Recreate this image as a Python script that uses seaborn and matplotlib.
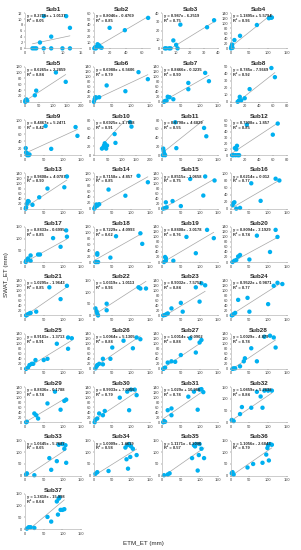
import numpy as np
import pandas as pd
import matplotlib
matplotlib.use("Agg")
import matplotlib.pyplot as plt
import seaborn as sns

# ETM_ET (x) and SWAT_ET (y) per sub-basin
etm_x = [
    [2, 2.5, 3, 4, 5, 5, 7, 7, 10, 11, 12, 12],
    [1, 2, 3, 5, 5, 7, 8, 10, 20, 39, 68],
    [2, 3, 5, 6, 8, 10, 11, 13, 32, 37],
    [1, 2, 3, 4, 5, 10, 25, 70, 102, 108, 110],
    [1, 2, 3, 5, 8, 35, 40, 110, 145],
    [1, 3, 5, 8, 15, 35, 85, 120, 145],
    [5, 8, 12, 15, 20, 30, 70, 70, 115, 125],
    [10, 12, 13, 15, 20, 27, 58, 63],
    [2, 3, 5, 6, 8, 10, 12, 55, 70, 135, 140],
    [30, 35, 38, 40, 42, 45, 48, 75, 78, 130, 135],
    [2, 3, 4, 5, 6, 8, 35, 38, 112, 118],
    [2, 4, 6, 7, 8, 9, 10, 12, 23, 60, 67],
    [2, 3, 5, 8, 10, 20, 38, 60, 105, 112],
    [2, 4, 6, 8, 10, 15, 40, 85, 120, 145],
    [3, 8, 10, 12, 28, 50, 75, 110, 115, 140],
    [5, 7, 10, 15, 25, 55, 80, 120, 130],
    [2, 3, 5, 8, 15, 15, 35, 40, 75, 95, 110, 112],
    [5, 8, 10, 10, 12, 45, 60, 125, 130],
    [5, 8, 10, 10, 30, 65, 90, 120, 138],
    [5, 10, 15, 20, 25, 50, 70, 105, 120, 125],
    [3, 5, 8, 12, 15, 30, 65, 95, 112],
    [5, 8, 10, 12, 35, 35, 120, 125, 140],
    [3, 8, 12, 15, 25, 50, 55, 90, 100, 105, 115],
    [3, 5, 8, 12, 20, 45, 50, 100, 115, 125, 138],
    [3, 8, 12, 18, 22, 28, 50, 60, 85, 115, 115, 125],
    [5, 8, 10, 15, 25, 25, 45, 50, 80, 105, 115, 125],
    [3, 5, 8, 15, 25, 35, 50, 75, 90, 100, 105],
    [5, 8, 12, 25, 35, 38, 55, 70, 90, 105, 115, 120],
    [3, 5, 25, 30, 35, 60, 80, 95, 105, 110],
    [3, 5, 10, 15, 25, 30, 70, 90, 95, 100, 110, 115],
    [3, 5, 8, 15, 25, 25, 70, 85, 95, 100, 105, 110],
    [3, 8, 25, 30, 55, 70, 80, 85, 90, 100, 110],
    [3, 5, 25, 65, 70, 85, 90, 100, 105, 108, 110],
    [5, 10, 40, 85, 88, 90, 92, 95, 98, 100, 105, 115],
    [5, 15, 20, 80, 85, 88, 90, 95, 98, 100, 105, 112],
    [3, 5, 8, 45, 60, 85, 95, 98, 100, 102, 105, 110],
    [5, 10, 15, 25, 60, 70, 85, 88, 90, 92, 95, 100, 105],
]
swat_y = [
    [0, 0, 0, 2, 0, 11, 4, 0, 0, 11, 7, 0],
    [0, 2, 0, 7, 3, 5, 2, 1, 35, 31, 52],
    [0, 0, 0, 0, 9, 4, 0, 27, 24, 32],
    [0, 5, 10, 15, 2, 33, 50, 93, 120, 122, 123],
    [0, 5, 2, 8, 3, 22, 38, 100, 68],
    [0, 10, 18, 16, 18, 65, 42, 118, 90],
    [0, 3, 5, 20, 18, 10, 75, 50, 115, 82],
    [0, 2, 7, 2, 5, 18, 48, 35],
    [20, 8, 5, 0, 2, 0, 2, 83, 18, 80, 55],
    [15, 18, 22, 27, 20, 15, 22, 48, 28, 75, 65],
    [0, 15, 10, 5, 2, 0, 75, 16, 62, 43],
    [0, 0, 12, 0, 10, 16, 0, 0, 52, 35, 54],
    [0, 5, 20, 30, 28, 15, 45, 80, 85, 128],
    [0, 5, 12, 14, 10, 15, 65, 44, 112, 90],
    [0, 2, 25, 5, 30, 10, 118, 52, 128, 112],
    [10, 15, 18, 0, 2, 72, 22, 85, 80],
    [0, 5, 8, 15, 28, 5, 32, 32, 102, 65, 135, 108],
    [0, 0, 25, 30, 0, 15, 88, 98, 62],
    [0, 20, 15, 5, 5, 100, 35, 128, 95],
    [0, 5, 8, 22, 28, 10, 105, 40, 128, 100],
    [0, 2, 5, 8, 10, 15, 112, 65, 118],
    [30, 18, 8, 0, 50, 22, 120, 115, 115],
    [0, 2, 5, 8, 28, 50, 15, 112, 55, 128, 120],
    [0, 2, 5, 10, 62, 70, 15, 45, 118, 130, 125],
    [0, 5, 15, 20, 20, 35, 35, 40, 100, 80, 125, 122],
    [2, 10, 15, 20, 18, 40, 40, 85, 112, 82, 125, 118],
    [0, 2, 5, 25, 30, 28, 55, 122, 65, 105, 115],
    [0, 2, 2, 10, 30, 42, 82, 30, 128, 132, 125, 85],
    [0, 2, 35, 28, 15, 75, 122, 50, 85, 90],
    [0, 10, 15, 35, 28, 45, 98, 122, 48, 130, 130, 108],
    [0, 5, 2, 48, 28, 55, 102, 122, 50, 130, 132, 120],
    [10, 5, 35, 65, 62, 130, 110, 62, 135, 135, 135],
    [5, 10, 2, 75, 25, 62, 132, 135, 115, 130, 55],
    [8, 15, 20, 120, 70, 130, 30, 135, 80, 125, 115, 88],
    [2, 5, 10, 75, 130, 125, 135, 22, 88, 135, 115, 75],
    [10, 15, 5, 35, 50, 55, 90, 118, 130, 65, 135, 132],
    [2, 8, 8, 5, 52, 32, 118, 62, 130, 135, 82, 82, 85],
]
slopes = [0.2716, 0.8046, 0.987, 1.1895, 0.6265, 0.6988, 0.8466, 0.785, 0.4867, 0.6925,
          0.6798, 0.7908, 0.9808, 0.7158, 0.8515, 0.6214, 0.8833, 0.7229, 0.8808, 0.8094,
          1.0295, 1.0319, 0.9032, 0.9522, 0.9181, 1.0064, 1.0014, 1.0029, 0.8836, 0.9933,
          1.029, 1.0859, 1.0645, 1.0009, 1.1171, 1.1056, 1.3418]
intercepts = [1.0137, -0.4769, -6.2519, 5.5794, 2.2859, 6.5606, -0.3235, -7.9669, 5.2471, 1.7958,
              4.6829, 1.857, 4.0787, 4.857, -1.0658, 0.012, -0.6995, 4.0993, -3.0178, -3.1929,
              -1.9643, 1.0113, -7.5752, 0.9871, -1.3713, 5.1305, 0.0902, -4.879, -0.1788, 7.0955,
              10.966, 5.2838, -5.7687, -1.4619, -6.3096, -2.6843, -15.998]
r2 = [0.05, 0.85, 0.75, 0.96, 0.84, 0.79, 0.90, 0.92, 0.42, 0.91,
      0.55, 0.85, 0.90, 0.85, 0.75, 0.77, 0.85, 0.62, 0.76, 0.74,
      0.85, 0.96, 0.84, 0.77, 0.91, 0.88, 0.88, 0.78, 0.74, 0.79,
      0.78, 0.84, 0.65, 0.58, 0.57, 0.79, 0.64]
# axis ranges (max, tick step)
x_max = [15, 70, 40, 150, 200, 150, 150, 80, 150, 200,
         150, 80, 150, 150, 150, 150, 150, 150, 150, 150,
         150, 150, 150, 150, 150, 150, 150, 150, 150, 150,
         150, 150, 150, 150, 150, 150, 150]
x_step = [5, 20, 10, 50, 50, 50, 50, 20, 50, 50,
          50, 20, 50, 50, 50, 50, 50, 50, 50, 50,
          50, 50, 50, 50, 50, 50, 50, 50, 50, 50,
          50, 50, 50, 50, 50, 50, 50]
y_max = [12, 60, 40, 140, 120, 140, 140, 50, 100, 80,
         80, 60, 140, 120, 140, 100, 150, 120, 140, 140,
         140, 150, 140, 140, 140, 140, 140, 140, 140, 140,
         140, 150, 150, 150, 150, 150, 150]
y_step = [2, 10, 10, 20, 20, 20, 20, 10, 20, 20,
          20, 10, 20, 20, 20, 20, 50, 20, 20, 20,
          20, 50, 20, 20, 20, 20, 20, 20, 20, 20,
          20, 50, 50, 50, 50, 50, 50]

sns.set_style("ticks")
plt.rcParams['font.family'] = ['Liberation Sans', 'DejaVu Sans']

fig, axes = plt.subplots(10, 4, figsize=(3.01, 5.50), dpi=100)
fig.subplots_adjust(left=0.083, right=0.953, top=0.976, bottom=0.038,
                    wspace=0.22, hspace=0.52)

for i, ax in enumerate(axes.flat):
    if i >= len(etm_x):
        ax.set_visible(False)
        continue
    df = pd.DataFrame({'x': etm_x[i], 'y': swat_y[i]})
    xs = np.array([df.x.min(), df.x.max()])
    ax.plot(xs, slopes[i] * xs + intercepts[i], color='#a6a6a6', lw=0.5, zorder=1)
    sns.scatterplot(data=df, x='x', y='y', ax=ax, color='#00b0f0', s=10,
                    edgecolor='none', zorder=2, clip_on=False)
    ax.set_xlim(0, x_max[i])
    ax.set_ylim(0, y_max[i])
    ax.set_xticks(np.arange(0, x_max[i] + 0.1, x_step[i]))
    ax.set_yticks(np.arange(0, y_max[i] + 0.1, y_step[i]))
    ax.tick_params(labelsize=2.8, length=1, width=0.3, pad=0.8, colors='#404040')
    for s in ['top', 'right']:
        ax.spines[s].set_visible(False)
    for s in ['left', 'bottom']:
        ax.spines[s].set_linewidth(0.4)
        ax.spines[s].set_color('#a6a6a6')
    ax.set_xlabel('')
    ax.set_ylabel('')
    ax.set_title(f'Sub{i + 1}', fontsize=4.5, fontweight='bold', pad=1.5)
    sign = '+' if intercepts[i] >= 0 else '-'
    ax.text(0.04, 0.97, f'y = {slopes[i]}x {sign} {abs(intercepts[i])}\nR² = {r2[i]:.2f}',
            transform=ax.transAxes, fontsize=2.9, fontweight='bold', va='top',
            ha='left', linespacing=1.3)

fig.text(0.475, 0.012, 'ETM_ET (mm)', fontsize=4.5, ha='center', va='center')
fig.text(0.02, 0.5, 'SWAT_ET (mm)', fontsize=4.5, ha='center', va='center', rotation=90)

plt.savefig('out.png', dpi=100)
